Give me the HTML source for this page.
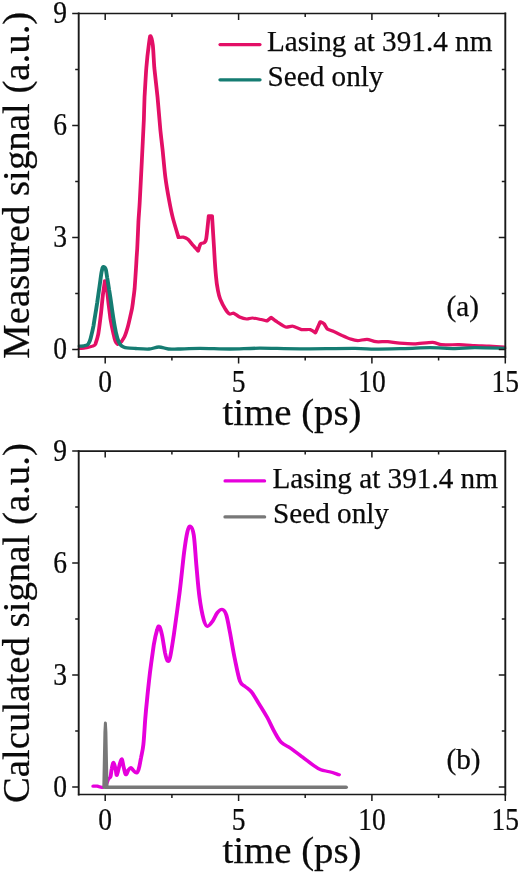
<!DOCTYPE html>
<html><head><meta charset="utf-8"><title>Lasing signal</title>
<style>
html,body{margin:0;padding:0;background:#fff;}
svg{display:block;}
text{font-family:"Liberation Serif","Times New Roman",serif;fill:#0a0a0a;stroke:#0a0a0a;stroke-width:0.25px;}
.t{font-size:30.6px;}
.l{font-size:29.2px;}
.ax{font-size:38.8px;}
</style></head><body>
<svg width="520" height="874" viewBox="0 0 520 874">
<rect width="520" height="874" fill="#fff"/>
<!-- panel a -->
<g fill="none" stroke-linecap="round" stroke-linejoin="round" transform="scale(1.18,1)">
<path d="M67.4,348.5C67.9,348.4 71.1,348.2 72.0,348.0C73.0,347.8 75.1,347.2 75.8,347.0C76.6,346.8 78.3,346.3 78.8,346.0C79.4,345.7 80.3,345.5 80.8,344.2C81.2,342.9 82.7,338.0 83.2,334.6C83.8,331.2 85.1,318.0 85.6,313.5C86.0,309.0 86.9,297.6 87.3,294.0C87.7,290.4 88.9,280.8 88.9,280.8C88.9,280.8 90.2,286.1 90.5,288.5C90.8,290.9 91.6,299.6 91.9,303.0C92.3,306.4 93.2,315.5 93.6,319.0C94.1,322.5 95.8,332.1 96.3,334.6C96.7,337.1 97.5,340.4 97.9,341.5C98.3,342.6 99.3,344.2 99.7,344.4C100.0,344.6 100.9,343.6 101.3,343.3C101.6,343.0 102.5,342.2 103.0,341.5C103.4,340.8 105.0,338.1 105.6,336.5C106.2,334.9 107.8,329.0 108.3,326.9C108.8,324.8 109.9,319.1 110.3,317.0C110.7,314.9 111.7,309.8 112.0,307.7C112.3,305.6 112.9,300.1 113.1,298.0C113.4,295.9 113.8,291.7 114.1,288.5C114.3,285.3 115.0,272.7 115.2,269.2C115.4,265.7 115.7,259.8 115.8,257.0C116.0,254.2 116.4,247.3 116.5,243.5C116.7,239.7 117.1,226.5 117.3,222.0C117.5,217.5 118.1,209.0 118.4,202.3C118.7,195.6 119.8,170.1 120.2,161.0C120.6,151.9 121.6,127.0 121.9,120.0C122.1,113.0 122.3,102.7 122.5,97.0C122.8,91.3 123.6,73.9 124.0,68.0C124.4,62.1 125.9,46.5 126.3,43.0C126.7,39.5 127.1,35.6 127.5,35.8C127.8,36.0 129.1,41.5 129.5,45.0C129.9,48.5 130.4,62.3 130.8,68.0C131.3,73.7 132.9,90.2 133.5,97.0C134.0,103.8 135.5,124.3 135.9,130.0C136.4,135.7 137.2,143.6 137.7,148.8C138.2,154.0 139.5,172.0 140.2,177.7C140.8,183.4 142.7,196.3 143.4,200.8C144.1,205.3 145.7,214.5 146.6,218.5C147.5,222.5 151.3,237.5 151.3,237.5C151.3,237.5 154.4,236.9 155.3,237.1C156.2,237.3 158.5,238.5 159.4,239.4C160.3,240.3 162.5,243.9 163.5,245.2C164.4,246.5 167.9,251.0 167.9,251.0C167.9,251.0 169.4,244.7 170.0,243.8C170.6,242.9 172.7,243.3 173.2,242.7C173.8,242.1 174.4,241.5 174.8,238.5C175.2,235.5 176.9,215.8 176.9,215.8C176.9,215.8 179.7,215.8 179.7,215.8C179.7,215.8 181.0,241.3 181.4,248.0C181.7,254.7 182.7,272.3 183.1,277.0C183.4,281.7 184.3,288.0 184.7,290.4C185.1,292.8 185.9,297.0 186.6,299.0C187.3,301.0 189.9,307.2 190.8,308.8C191.6,310.4 193.6,313.5 194.4,314.0C195.2,314.5 197.1,312.9 198.1,313.2C199.0,313.5 201.8,316.4 203.0,317.0C204.2,317.6 207.9,318.9 209.1,319.0C210.3,319.1 212.6,317.9 214.0,318.0C215.3,318.1 219.9,319.2 221.3,319.5C222.6,319.8 226.2,321.0 226.2,321.0C226.2,321.0 229.8,317.5 229.8,317.5C229.8,317.5 233.4,320.8 234.7,321.8C236.1,322.8 240.6,326.5 242.1,327.0C243.6,327.5 246.7,325.9 248.2,326.2C249.7,326.5 253.9,329.2 255.5,329.6C257.1,330.0 261.6,329.2 262.9,329.6C264.2,330.0 267.3,332.8 267.3,332.8C267.3,332.8 271.4,321.8 271.4,321.8C271.4,321.8 273.9,323.0 274.6,323.8C275.2,324.6 276.7,328.2 277.5,329.0C278.4,329.8 281.1,330.6 282.5,331.3C283.8,332.0 288.1,334.5 289.7,335.4C291.4,336.3 295.6,338.5 297.1,339.1C298.6,339.7 301.7,340.6 303.2,340.6C304.7,340.6 309.3,339.2 311.0,339.3C312.7,339.4 316.6,341.4 318.6,341.7C320.5,342.0 326.4,341.5 328.6,341.7C330.9,341.9 336.2,343.0 338.7,343.2C341.2,343.4 348.3,343.9 351.4,343.8C354.4,343.7 364.0,342.2 366.5,342.3C369.0,342.4 371.6,344.4 374.1,344.7C376.6,345.0 386.2,344.6 389.2,344.7C392.3,344.8 399.1,345.4 401.9,345.6C404.6,345.8 411.7,346.0 414.5,346.2C417.3,346.4 426.1,347.0 427.5,347.1" stroke="#e30f66" stroke-width="3.2"/>
<path d="M67.4,346.2C67.9,346.1 70.2,346.0 71.2,345.8C72.2,345.6 73.4,345.5 74.2,344.8C74.9,344.1 75.6,342.5 76.1,341.0C76.6,339.5 77.1,337.2 77.5,335.0C78.0,332.8 78.7,329.0 79.2,326.0C79.6,323.0 80.2,318.5 80.7,315.0C81.2,311.5 81.9,306.2 82.4,302.5C82.8,298.8 83.5,293.4 83.9,290.0C84.3,286.6 84.8,282.6 85.1,280.0C85.4,277.4 85.7,274.3 86.0,272.5C86.3,270.7 86.7,268.7 86.9,267.8C87.2,266.9 87.4,266.7 87.7,266.6C88.0,266.5 88.5,266.8 88.8,267.3C89.1,267.8 89.5,268.5 89.8,270.0C90.1,271.5 90.4,274.5 90.8,277.5C91.3,280.5 92.0,286.2 92.5,290.0C93.1,293.8 93.7,298.9 94.2,303.0C94.7,307.1 95.4,313.2 95.9,317.0C96.4,320.8 97.0,325.1 97.5,328.0C97.9,330.9 98.5,334.0 99.0,336.0C99.4,338.0 100.0,340.1 100.5,341.5C101.0,342.9 101.6,344.2 102.2,345.0C102.8,345.8 103.8,346.6 104.7,347.0C105.5,347.4 106.1,347.7 107.6,347.9C109.2,348.1 112.2,348.3 115.0,348.5C117.8,348.7 123.3,349.2 126.3,349.0C129.2,348.8 132.1,347.0 134.6,347.0C137.0,347.0 140.3,348.7 142.7,349.0C145.2,349.3 146.8,349.1 150.8,349.0C154.9,348.9 162.9,348.4 169.5,348.4C176.1,348.4 187.3,349.0 194.9,349.0C202.5,349.0 211.4,348.2 220.3,348.2C229.2,348.2 242.2,348.8 254.2,348.8C266.3,348.8 291.3,348.2 300.8,348.3C310.4,348.4 311.4,349.2 317.8,349.2C324.2,349.2 336.2,348.8 343.2,348.6C350.2,348.4 358.1,347.7 364.4,347.7C370.8,347.7 379.9,348.6 385.6,348.6C391.3,348.6 396.2,347.7 402.5,347.7C408.8,347.7 423.8,348.2 427.5,348.3" stroke="#157c72" stroke-width="3.3"/>
</g>
<path d="M78.7,13.5H505.3M78.7,356.9H505.3" fill="none" stroke="#1a1a1a" stroke-width="1.6" stroke-linecap="square"/>
<path d="M78.7,13.5V356.9M505.3,13.5V356.9" fill="none" stroke="#1a1a1a" stroke-width="1.9" stroke-linecap="square"/>
<path d="M78.7,349.4h-6.5M505.3,349.4h-6.5M78.7,293.4h-3.5M505.3,293.4h-3.5M78.7,237.4h-6.5M505.3,237.4h-6.5M78.7,181.4h-3.5M505.3,181.4h-3.5M78.7,125.5h-6.5M505.3,125.5h-6.5M78.7,69.5h-3.5M505.3,69.5h-3.5M78.7,13.5h-6.5M105.2,356.9v6.5M105.2,13.5v6.5M171.9,356.9v3.5M171.9,13.5v3.5M238.6,356.9v6.5M238.6,13.5v6.5M305.2,356.9v3.5M305.2,13.5v3.5M371.9,356.9v6.5M371.9,13.5v6.5M438.6,356.9v3.5M438.6,13.5v3.5M505.3,356.9v6.5" fill="none" stroke="#1a1a1a" stroke-width="1.5"/>
<text transform="translate(67.0,358.8) scale(.9,1)" text-anchor="end" class="t">0</text>
<text transform="translate(67.0,246.8) scale(.9,1)" text-anchor="end" class="t">3</text>
<text transform="translate(67.0,134.9) scale(.9,1)" text-anchor="end" class="t">6</text>
<text transform="translate(67.0,22.9) scale(.9,1)" text-anchor="end" class="t">9</text>
<text transform="translate(105.2,392.0) scale(.9,1)" text-anchor="middle" class="t">0</text>
<text transform="translate(238.6,392.0) scale(.9,1)" text-anchor="middle" class="t">5</text>
<text transform="translate(371.9,392.0) scale(.9,1)" text-anchor="middle" class="t">10</text>
<text transform="translate(505.3,392.0) scale(.9,1)" text-anchor="middle" class="t">15</text>
<g fill="none" stroke-linecap="round">
<path d="M220,44.6H260" stroke="#e30f66" stroke-width="3.15"/>
<path d="M220,79.8H260" stroke="#157c72" stroke-width="3.3"/>
</g>
<text x="267" y="51" class="l">Lasing at 391.4 nm</text>
<text x="267.5" y="86.4" class="l">Seed only</text>
<text x="446.5" y="315.8" class="l">(a)</text>
<text x="292" y="425.4" text-anchor="middle" class="ax">time (ps)</text>
<text transform="translate(29.4,185.2) rotate(-90)" text-anchor="middle" class="ax">Measured signal (a.u.)</text>
<!-- panel b -->
<g fill="none" stroke-linecap="round" stroke-linejoin="round" transform="scale(1.18,1)">
<path d="M79.0,786.2C79.5,786.2 81.2,786.0 82.4,786.2C83.6,786.4 85.1,787.3 86.3,787.3C87.4,787.3 88.3,787.6 89.2,786.2C90.1,784.9 91.0,780.8 91.7,779.2C92.4,777.7 93.1,778.6 93.6,776.9C94.1,775.2 94.2,771.2 94.7,768.8C95.1,766.4 95.7,762.3 96.3,762.5C96.8,762.7 97.6,767.9 98.1,770.0C98.5,772.1 98.6,775.4 99.0,775.2C99.4,775.0 99.8,771.5 100.5,768.8C101.2,766.1 102.2,759.2 103.0,759.0C103.7,758.8 104.3,765.1 104.9,767.7C105.5,770.3 106.0,774.2 106.6,774.6C107.3,775.0 108.1,771.1 108.8,770.0C109.5,768.9 110.2,767.6 110.9,767.7C111.7,767.8 112.4,769.7 113.2,770.6C114.0,771.5 114.9,773.2 115.7,772.9C116.4,772.6 117.0,771.4 117.6,768.8C118.3,766.2 118.9,761.3 119.6,757.3C120.2,753.3 120.9,751.0 121.5,744.6C122.1,738.2 122.6,726.2 123.1,718.8C123.6,711.4 123.9,707.7 124.6,700.0C125.2,692.3 126.2,681.7 127.1,672.5C128.1,663.3 129.4,652.1 130.3,645.0C131.3,637.9 132.3,633.1 133.1,630.0C133.8,626.9 134.3,625.5 135.0,626.3C135.7,627.1 136.5,630.6 137.3,635.0C138.1,639.4 139.1,648.2 139.8,652.5C140.6,656.8 141.2,660.0 141.9,660.8C142.7,661.6 143.2,661.8 144.1,657.5C145.0,653.2 145.9,645.8 147.3,635.0C148.6,624.2 150.7,606.2 152.2,592.5C153.7,578.8 154.9,562.7 156.0,552.5C157.1,542.3 158.0,535.7 158.9,531.3C159.8,526.9 160.6,525.7 161.4,526.3C162.3,526.9 163.4,528.5 164.2,535.0C165.1,541.5 165.6,554.6 166.4,565.0C167.2,575.4 168.0,588.3 169.1,597.5C170.1,606.7 171.6,615.2 172.7,620.0C173.8,624.8 174.6,626.1 175.8,626.3C177.1,626.5 178.7,623.6 180.1,621.3C181.5,619.0 182.9,614.5 184.3,612.5C185.7,610.5 187.3,609.1 188.6,609.5C189.8,609.9 190.7,611.2 191.8,615.0C192.8,618.8 193.7,625.0 194.9,632.5C196.1,640.0 197.7,651.9 199.2,660.0C200.6,668.1 202.0,676.9 203.4,681.3C204.8,685.7 206.0,684.5 207.6,686.3C209.3,688.1 211.3,689.1 213.2,692.0C215.2,694.9 217.1,699.2 219.3,703.5C221.6,707.8 224.4,713.1 226.7,717.9C228.9,722.7 230.8,728.2 232.8,732.3C234.7,736.4 236.1,739.8 238.4,742.4C240.6,745.0 243.3,745.8 246.3,748.2C249.2,750.6 252.8,753.9 256.0,756.8C259.3,759.7 263.1,763.3 265.8,765.5C268.4,767.7 269.7,768.8 271.9,769.8C274.2,770.8 276.7,771.0 279.2,771.8C281.8,772.6 285.9,774.2 287.3,774.7" stroke="#e600dc" stroke-width="3.3"/>
</g>
<g fill="none" stroke="#787878" stroke-linecap="round" stroke-linejoin="round">
<path d="M103.8,787.2L104.9,732L105.4,723L105.9,732L107,787.2" stroke-width="3"/>
<path d="M105.4,787.2H346.2" stroke-width="3.5"/>
</g>
<path d="M78.7,451.1H505.3M78.7,794.5H505.3" fill="none" stroke="#1a1a1a" stroke-width="1.6" stroke-linecap="square"/>
<path d="M78.7,451.1V794.5M505.3,451.1V794.5" fill="none" stroke="#1a1a1a" stroke-width="1.9" stroke-linecap="square"/>
<path d="M78.7,787.1h-6.5M505.3,787.1h-6.5M78.7,731.1h-3.5M505.3,731.1h-3.5M78.7,675.1h-6.5M505.3,675.1h-6.5M78.7,619.1h-3.5M505.3,619.1h-3.5M78.7,563.1h-6.5M505.3,563.1h-6.5M78.7,507.1h-3.5M505.3,507.1h-3.5M78.7,451.1h-6.5M105.2,794.5v6.5M105.2,451.1v6.5M171.9,794.5v3.5M171.9,451.1v3.5M238.6,794.5v6.5M238.6,451.1v6.5M305.2,794.5v3.5M305.2,451.1v3.5M371.9,794.5v6.5M371.9,451.1v6.5M438.6,794.5v3.5M438.6,451.1v3.5M505.3,794.5v6.5" fill="none" stroke="#1a1a1a" stroke-width="1.5"/>
<text transform="translate(67.0,796.5) scale(.9,1)" text-anchor="end" class="t">0</text>
<text transform="translate(67.0,684.5) scale(.9,1)" text-anchor="end" class="t">3</text>
<text transform="translate(67.0,572.5) scale(.9,1)" text-anchor="end" class="t">6</text>
<text transform="translate(67.0,460.5) scale(.9,1)" text-anchor="end" class="t">9</text>
<text transform="translate(105.2,829.6) scale(.9,1)" text-anchor="middle" class="t">0</text>
<text transform="translate(238.6,829.6) scale(.9,1)" text-anchor="middle" class="t">5</text>
<text transform="translate(371.9,829.6) scale(.9,1)" text-anchor="middle" class="t">10</text>
<text transform="translate(505.3,829.6) scale(.9,1)" text-anchor="middle" class="t">15</text>
<g fill="none" stroke-linecap="round">
<path d="M225,480.9H264.6" stroke="#e600dc" stroke-width="3.15"/>
<path d="M225,516.9H264.6" stroke="#787878" stroke-width="3.3"/>
</g>
<text x="272.5" y="487.5" class="l">Lasing at 391.4 nm</text>
<text x="273" y="523" class="l">Seed only</text>
<text x="446.5" y="769" class="l">(b)</text>
<text x="292" y="863" text-anchor="middle" class="ax">time (ps)</text>
<text transform="translate(29.4,623.1) rotate(-90)" text-anchor="middle" class="ax">Calculated signal (a.u.)</text>
</svg>
</body></html>
